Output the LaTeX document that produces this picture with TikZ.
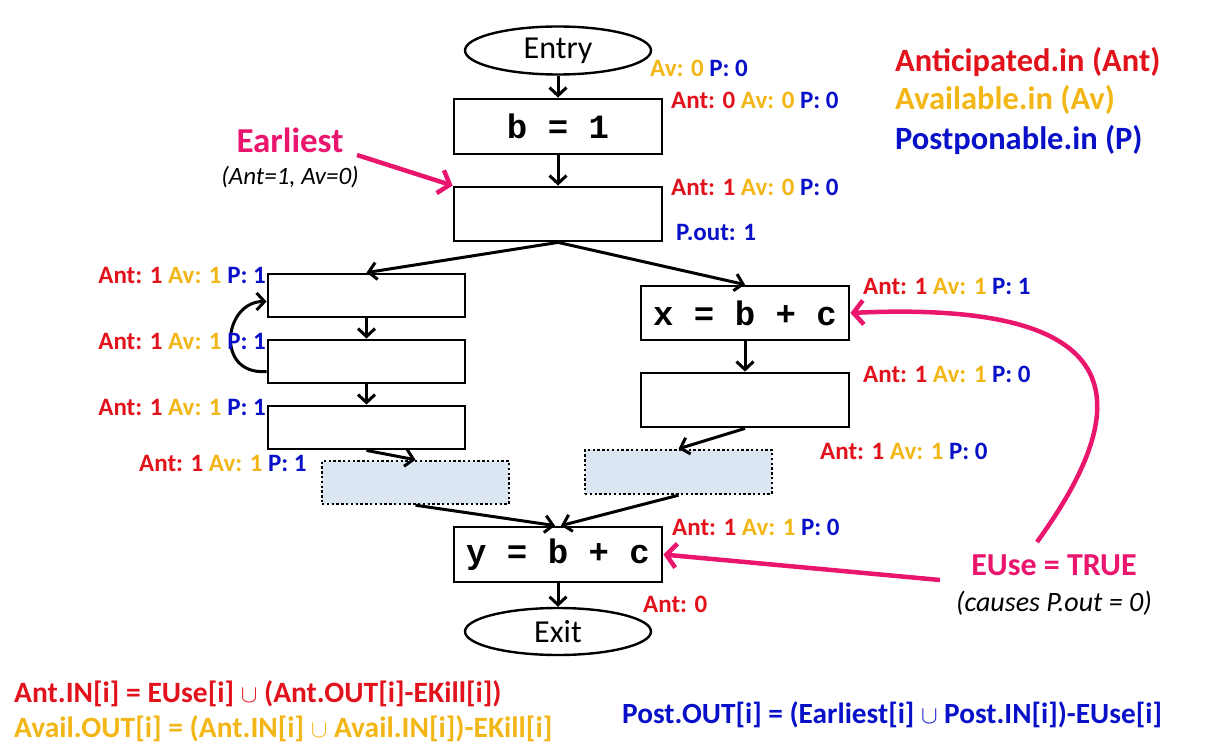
\documentclass[tikz,border=0pt]{standalone}
\usepackage{fontspec}
\setmainfont{Carlito}
\setmonofont{Liberation Mono}
\usetikzlibrary{arrows.meta, shapes.geometric}
\definecolor{antred}{RGB}{226,18,28}
\definecolor{avgold}{RGB}{242,182,22}
\definecolor{pblue}{RGB}{8,16,200}
\definecolor{hotpink}{RGB}{234,22,110}
\definecolor{spill}{RGB}{220,230,242}
\newcommand{\aap}[3]{\textcolor{antred}{Ant: #1} \textcolor{avgold}{Av: #2} \textcolor{pblue}{P: #3}}
\tikzset{
  blk/.style={draw, line width=2.8pt, inner sep=0pt, minimum width=208pt, minimum height=55pt,
    font=\ttfamily\bfseries\fontsize{34}{34}\selectfont},
  sblk/.style={blk, minimum width=197pt, minimum height=43pt},
  dotblk/.style={draw, fill=spill, line width=2.4pt, dash pattern=on 2.4pt off 2.4pt, minimum width=187pt, minimum height=43pt},
  term/.style={ellipse, draw, line width=2.4pt, inner sep=0pt, minimum width=186pt, minimum height=48pt,
    font=\fontsize{32}{32}\selectfont},
  lbl/.style={inner sep=0pt, font=\bfseries\fontsize{25}{25}\selectfont},
  flow/.style={line width=3pt, -{Straight Barb[length=8pt,width=17pt]}},
  hint/.style={hotpink, line width=4.5pt, -{Straight Barb[length=10pt,width=24pt]}},
}
\begin{document}
\begin{tikzpicture}[x=1pt, y=-1pt]
\useasboundingbox (0,0) rectangle (1225,746);
% blocks
\node[term] (entry) at (558,50.5) {Entry};
\node[blk] (b1) at (558,126.5) {b = 1};
\node[blk, minimum height=54pt] (b2) at (558,214) {};
\node[sblk] (l1) at (366.5,295.5) {};
\node[sblk] (l2) at (366.5,361.5) {};
\node[sblk] (l3) at (366.5,427.5) {};
\node[dotblk] (ldot) at (415.5,482.5) {};
\node[blk, minimum height=54pt] (r1) at (745,313) {x = b + c};
\node[blk, minimum height=54pt] (r2) at (745,400) {};
\node[dotblk, minimum height=44pt] (rdot) at (678.5,472) {};
\node[blk] (yb) at (558,554.5) {y = b + c};
\node[term, minimum height=47pt] (exit) at (558,631.5) {Exit};
% edges
\draw[flow] (entry) -- (b1);
\draw[flow] (b1) -- (b2);
\draw[flow] (b2.south) -- (l1.north);
\draw[flow] (b2.south) -- (r1.north);
\draw[flow] (l1) -- (l2);
\draw[flow] (l2) -- (l3);
\draw[flow] ([yshift=-10pt]l2.west) .. controls +(-52,4) and +(-43,0) .. ([yshift=-6pt]l1.west); %back edge
\draw[flow] (l3.south) -- (ldot.north);
\draw[flow] (ldot.south) -- ([xshift=-3pt]yb.north);
\draw[flow] (r1) -- (r2);
\draw[flow] (r2.south) -- (rdot.north);
\draw[flow] (rdot.south) -- ([xshift=3pt]yb.north);
\draw[flow] (yb) -- (exit);
% dataflow values
\node[lbl, anchor=west] (v0) at (650,68) {\textcolor{avgold}{Av: 0} \textcolor{pblue}{P: 0}};
\node[lbl, anchor=west] (v1) at (671,100) {\aap{0}{0}{0}};
\node[lbl, anchor=west] (v2) at (671,187) {\aap{1}{0}{0}};
\node[lbl, anchor=west, text=pblue] (pout) at (676,232) {P.out: 1};
\node[lbl, anchor=east] (vl1) at (266,275) {\aap{1}{1}{1}};
\node[lbl, anchor=east] (vl2) at (266,341) {\aap{1}{1}{1}};
\node[lbl, anchor=east] (vl3) at (266,407) {\aap{1}{1}{1}};
\node[lbl, anchor=west] (vl4) at (139,463) {\aap{1}{1}{1}};
\node[lbl, anchor=west] (vr1) at (863,286) {\aap{1}{1}{1}};
\node[lbl, anchor=west] (vr2) at (863,374) {\aap{1}{1}{0}};
\node[lbl, anchor=west] (vr3) at (820,451) {\aap{1}{1}{0}};
\node[lbl, anchor=west] (vy) at (672,527) {\aap{1}{1}{0}};
\node[lbl, anchor=west, text=antred] (vx) at (643,604) {Ant: 0};
% legend
\node[lbl, anchor=west, text=antred, font=\bfseries\fontsize{32.5}{32.5}\selectfont] (lgant) at (895,62) {Anticipated.in (Ant)};
\node[lbl, anchor=west, text=avgold, font=\bfseries\fontsize{32.5}{32.5}\selectfont] (lgav) at (895,100) {Available.in (Av)};
\node[lbl, anchor=west, text=pblue, font=\bfseries\fontsize{32.5}{32.5}\selectfont] (lgp) at (895,140) {Postponable.in (P)};
% notes
\node[text=hotpink, font=\bfseries\fontsize{35}{35}\selectfont, inner sep=0pt] (early) at (290,140) {Earliest};
\node[font=\itshape\fontsize{25}{25}\selectfont, inner sep=0pt] (earlysub) at (290,177) {(Ant=1, Av=0)};
\coordinate (earlytail) at (357,155);
\draw[hint] (earlytail) -- (b2.north west);
\node[text=hotpink, font=\bfseries\fontsize{32}{32}\selectfont, inner sep=0pt] (euse) at (1054,565) {EUse = TRUE};
\node[font=\itshape\fontsize{28}{28}\selectfont, inner sep=0pt] (eusesub) at (1054,603) {(causes P.out = 0)};
\coordinate (usetail) at (940,580);
\coordinate (curvetail) at (1037,542);
\draw[hint] (usetail) -- (yb.east);
\draw[hint] (curvetail) .. controls (1140,400) and (1130,300) .. (r1.east);
% equations
\node[lbl, anchor=west, text=antred, font=\bfseries\fontsize{29.5}{29.5}\selectfont] (eqant) at (14,694) {Ant.IN[i] = EUse[i] $\cup$ (Ant.OUT[i]-EKill[i])};
\node[lbl, anchor=west, text=avgold, font=\bfseries\fontsize{29.5}{29.5}\selectfont] (eqav) at (14,729) {Avail.OUT[i] = (Ant.IN[i] $\cup$ Avail.IN[i])-EKill[i]};
\node[lbl, anchor=west, text=pblue, font=\bfseries\fontsize{29.3}{29.3}\selectfont] (eqp) at (622,715) {Post.OUT[i] = (Earliest[i] $\cup$ Post.IN[i])-EUse[i]};
\end{tikzpicture}
\end{document}
